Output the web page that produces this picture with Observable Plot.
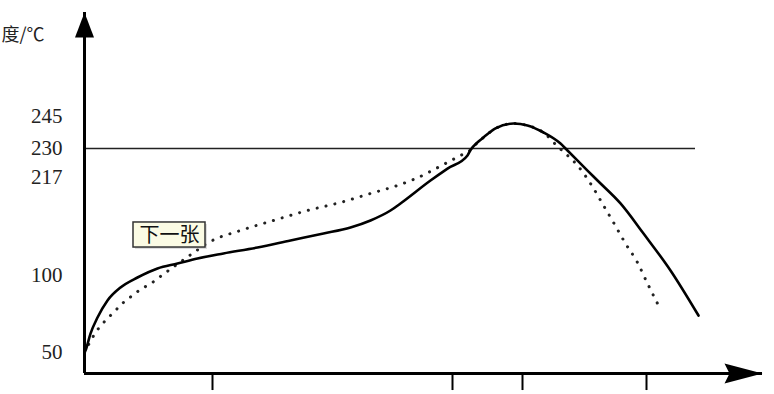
<!DOCTYPE html>
<html>
<head>
<meta charset="utf-8">
<script src="https://cdn.jsdelivr.net/npm/d3@7"></script>
<script src="https://cdn.jsdelivr.net/npm/@observablehq/plot@0.6"></script>
<style>
  html, body { margin: 0; padding: 0; background: #fff; }
</style>
</head>
<body>
<script>
// ---- data (time in s, temperature in °C) ----
const solidTime = [0, 0.5, 3, 6.5, 11.5, 18, 26.5, 36.5, 46.5, 56.5, 69.5, 86.5, 103, 119.5, 133, 143, 153, 158, 173, 181.5, 191.5, 193, 197, 199.5, 205.5, 214.5, 221.5, 229.5, 238, 241.5, 251.5, 256.5, 268, 279.5, 293, 307];
const solidTemp = [50, 51.3, 62.3, 72.7, 83.8, 92.2, 98.7, 108.4, 114.3, 120.3, 126.3, 133.4, 141.8, 150.1, 157.3, 165.7, 177.6, 186, 213.4, 221, 226.9, 229.3, 233.3, 235.2, 239.4, 241.7, 240.8, 237.5, 232.3, 229.1, 220.1, 213.4, 186, 150.1, 106, 74];

const dottedTime = [0, 4, 7, 10.5, 14, 19.5, 24, 28, 34, 38, 45.5, 54, 63, 78, 94.5, 111.5, 128, 143, 156.5, 164.5, 180.5, 188, 193, 197, 199.5, 205.5, 214.5, 221.5, 229.5, 236.5, 241.5, 246.5, 253, 259.5, 264.5, 270.5, 276.5, 281.5, 286.5];
const dottedTemp = [50, 59.7, 65.6, 70.8, 75.3, 82.5, 87, 90.9, 95.5, 99.4, 111.9, 126.3, 140.6, 153.7, 165.7, 177.6, 187.2, 197.9, 207.5, 214.6, 223.3, 226.9, 229.3, 233.3, 235.2, 239.4, 241.7, 240.8, 237.5, 231, 226.9, 222.4, 209.8, 183.6, 163.3, 138.2, 115.5, 94.8, 81.8];

const yTicks = [50, 100, 217, 230, 245];
const xTicks = [64, 184, 219, 281];
const xTickBottom = 25.3;
const limitTemp = [230];
const limitEnd = 305.5;

const axisOrigin = {time: 0, temp: 36.4};
const axisEnds = {time: 339, temp: 293.8};

const yLabel = ["度/℃"];
const yLabelPos = {time: -41.5, temp: 283};

const tipText = ["下一张"];
const tipBox = {x1: 24.5, x2: 60.5, y1: 133.4, y2: 163.3};
const tipPos = {time: 42.5, temp: 147.8};

// ---- build tables ----
const solid = solidTime.map((t, i) => ({t, T: solidTemp[i]}));
const dotted = dottedTime.map((t, i) => ({t, T: dottedTemp[i]}));

// arrowhead symbols (tip at the anchor point)
const arrowUp = {draw(ctx) { ctx.moveTo(0, 0); ctx.lineTo(9.5, 25); ctx.lineTo(-9.5, 25); ctx.closePath(); }};
const arrowRight = {draw(ctx) { ctx.moveTo(0, 0); ctx.lineTo(-38, -10); ctx.lineTo(-33, 0); ctx.lineTo(-38, 10); ctx.closePath(); }};

const chart = Plot.plot({
  width: 774,
  height: 394,
  marginTop: 0,
  marginLeft: 84,
  marginRight: 12,
  marginBottom: 21,
  style: {background: "#fff", overflow: "visible"},
  x: {type: "linear", domain: [0, 339], range: [84, 762], axis: null},
  y: {type: "linear", domain: [50, 100, 217, 230, 245], range: [352, 275, 177, 148, 116], axis: null},
  marks: [
    // limit line
    Plot.ruleY(limitTemp, {x1: 0, x2: limitEnd, stroke: "#222", strokeWidth: 1.5}),
    // curves
    Plot.line(dotted, {x: "t", y: "T", curve: "monotone-x", stroke: "#222", strokeWidth: 3, strokeDasharray: "0.1 9", strokeLinecap: "round"}),
    Plot.line(solid, {x: "t", y: "T", curve: "monotone-x", stroke: "#000", strokeWidth: 2.6}),
    // axes lines
    Plot.ruleX([axisOrigin.time], {y1: axisOrigin.temp, y2: axisEnds.temp, stroke: "#000", strokeWidth: 3}),
    Plot.ruleY([axisOrigin.temp], {x1: axisOrigin.time, x2: axisEnds.time, stroke: "#000", strokeWidth: 3}),
    Plot.dot([axisEnds], {x: () => axisOrigin.time, y: "temp", symbol: arrowUp, fill: "#000", stroke: null, r: 5}),
    Plot.dot([axisEnds], {x: "time", y: () => axisOrigin.temp, symbol: arrowRight, fill: "#000", stroke: null, r: 5}),
    // x ticks (no labels)
    Plot.ruleX(xTicks, {x: d => d, y1: axisOrigin.temp, y2: xTickBottom, stroke: "#000", strokeWidth: 2}),
    // y tick labels
    Plot.axisY(yTicks, {x: 0, tickSize: 0, tickPadding: 22, fontSize: 21, fontFamily: "Liberation Serif, serif", fill: "#222", textAnchor: "end"}),
    // y label
    Plot.text(yLabel, {x: () => yLabelPos.time, y: () => yLabelPos.temp, text: d => d, textAnchor: "start", fontSize: 18, fontFamily: "Noto Sans CJK SC, Liberation Serif", fill: "#222"}),
    // tooltip box
    Plot.rect([tipBox], {x1: "x1", x2: "x2", y1: "y1", y2: "y2", fill: "#bbb", fillOpacity: 0.5, dx: 2, dy: 2}),
    Plot.rect([tipBox], {x1: "x1", x2: "x2", y1: "y1", y2: "y2", fill: "#fbfbe4", stroke: "#333", strokeWidth: 1.5}),
    Plot.text(tipText, {x: () => tipPos.time, y: () => tipPos.temp, text: d => d, fontSize: 20, fontFamily: "Noto Sans CJK SC", fill: "#111"})
  ]
});
document.body.appendChild(chart);
</script>
</body>
</html>
